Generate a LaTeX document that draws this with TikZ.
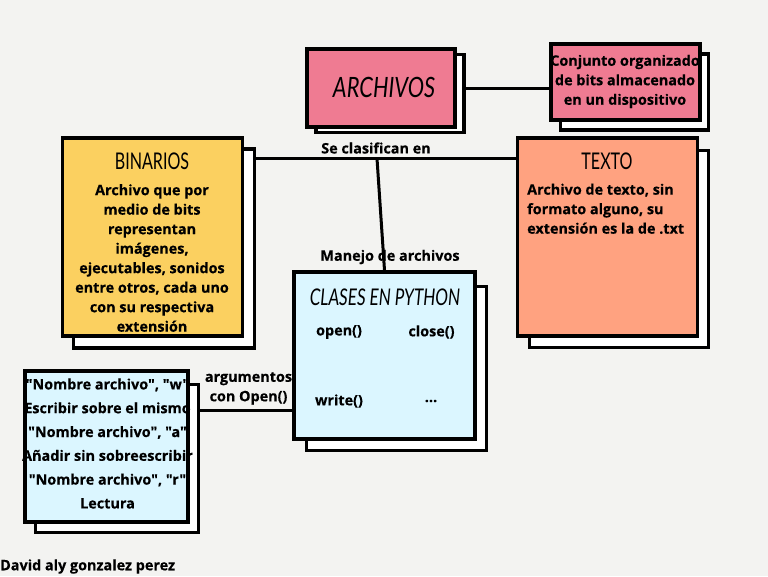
\documentclass[tikz,border=0pt]{standalone}
\usepackage{fontspec}
\setmainfont{Open Sans}[Ligatures=TeXOff, BoldFeatures={FakeBold=0.35}]
\newfontfamily\titulofont{Lato}
\newfontfamily\tituloit{Lato Italic}
\definecolor{fondo}{HTML}{F3F3F1}
\definecolor{rosa}{HTML}{EF7B92}
\definecolor{amarillo}{HTML}{FBD060}
\definecolor{salmon}{HTML}{FFA280}
\definecolor{celeste}{HTML}{DBF6FF}
\tikzset{
  caja/.style={draw=black, line width=3.4pt, inner sep=0pt},
  sombra/.style={caja, fill=white},
  linea/.style={black, line width=3pt},
  texto/.style={font=\fontsize{14.4}{19.5}\selectfont\bfseries, inner sep=0pt, align=center},
  titulo/.style={inner sep=0pt, font=\fontsize{23}{26}\selectfont\titulofont},
  tituloi/.style={inner sep=0pt, font=\fontsize{28}{30}\selectfont\tituloit}
}
\begin{document}
\begin{tikzpicture}[x=1pt,y=-1pt]
\fill[fondo] (0,0) rectangle (768,576);
\useasboundingbox (0,0) rectangle (768,576);
% sombras
\node[sombra, minimum width=148pt, minimum height=78pt] (archivosS) at (390,93.5) {};
\node[sombra, minimum width=148pt, minimum height=76pt] (conjuntoS) at (634.5,92) {};
\node[sombra, minimum width=181pt, minimum height=199pt] (binariosS) at (164,248.5) {};
\node[sombra, minimum width=179pt, minimum height=197pt] (textoS) at (619,249) {};
\node[sombra, minimum width=180pt, minimum height=164pt] (clasesS) at (396.5,368.5) {};
\node[sombra, minimum width=163pt, minimum height=148pt] (nombresS) at (117,458.5) {};
% lineas
\coordinate (cruce) at (377,158.5);
\coordinate (alto) at (0,88);
\coordinate (bajo) at (0,410);
\draw[linea] (archivosS.east |- alto) -- (conjuntoS.west |- alto);
\draw[linea] (binariosS.east |- cruce) -- (textoS.west |- cruce);
\draw[linea] (nombresS.east |- bajo) -- (clasesS.west |- bajo);
% cajas
\node[caja, fill=rosa, minimum width=148pt, minimum height=78pt] (archivos) at (381,88) {};
\node[caja, fill=rosa, minimum width=149pt, minimum height=76pt] (conjunto) at (625.5,82) {};
\node[caja, fill=amarillo, minimum width=180pt, minimum height=198pt] (binarios) at (152.5,237) {};
\node[caja, fill=salmon, minimum width=180pt, minimum height=198pt] (textoC) at (607.5,237) {};
\node[caja, fill=celeste, minimum width=181pt, minimum height=167pt] (clases) at (384.5,355.5) {};
\node[caja, fill=celeste, minimum width=163pt, minimum height=151pt] (nombres) at (106.5,446.5) {};
\draw[linea] (cruce) -- (clases.north);
% textos
\node[tituloi] (archivosT) at (384,87) {\scalebox{.78}[1]{ARCHIVOS}};
\node[texto] (conjuntoT) at (625,81.5) {Conjunto organizado\\de bits almacenado\\en un dispositivo};
\node[titulo] (binariosT) at (152,161) {\scalebox{.7}[1]{BINARIOS}};
\node[texto] (binariosB) at (152,258) {Archivo que por\\medio de bits\\representan\\imágenes,\\ejecutables, sonidos\\entre otros, cada uno\\con su respectiva\\extensión};
\node[titulo] (textoT) at (607,161) {\scalebox{.7}[1]{TEXTO}};
\node[texto, align=left, anchor=north west] (textoB) at (527,183.5) {Archivo de texto, sin\\formato alguno, su\\extensión es la de .txt};
\node[texto] (clasifican) at (376,148) {Se clasifican en};
\node[texto] (manejo) at (390,257) {Manejo de archivos};
\node[tituloi, font=\fontsize{23}{26}\selectfont\tituloit] (clasesT) at (385,297) {\scalebox{.74}[1]{CLASES EN PYTHON}};
\node[texto] (open) at (339,332) {open()};
\node[texto] (close) at (431.5,332) {close()};
\node[texto] (write) at (339,401) {write()};
\node[texto] (puntos) at (431,401) {...};
\node[texto] (argumentos) at (248.5,388.5) {argumentos\\con Open()};
\node[texto, font=\fontsize{14.4}{23.8}\selectfont\bfseries] (nombresB) at (107.5,443.5) {"Nombre archivo", "w"\\Escribir sobre el mismo\\"Nombre archivo", "a"\\Añadir sin sobreescribir\\"Nombre archivo", "r"\\Lectura};
\node[texto, anchor=west] (autor) at (0,566.5) {David aly gonzalez perez};
\end{tikzpicture}
\end{document}
